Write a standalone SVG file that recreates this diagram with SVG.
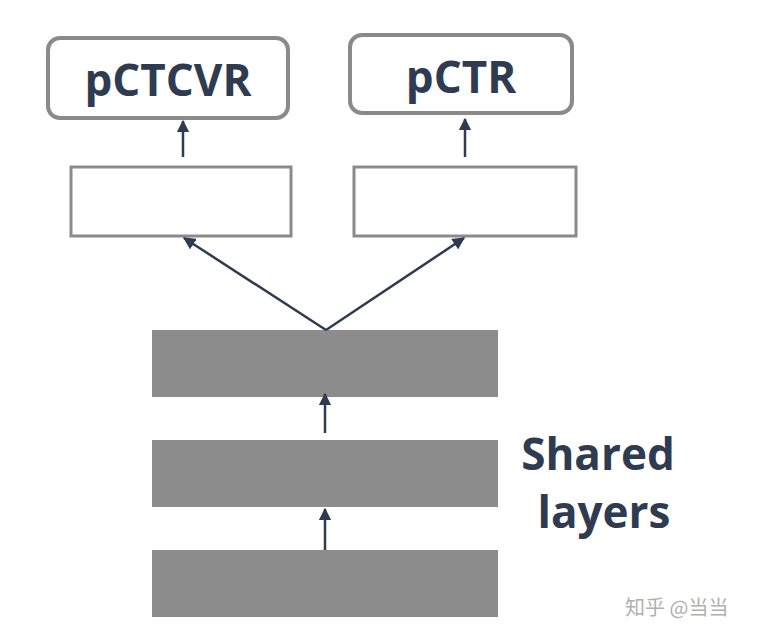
<svg xmlns="http://www.w3.org/2000/svg" width="762" height="642" viewBox="0 0 762 642">
<style>
.out{fill:#fff;stroke:#8a8a8a;stroke-width:4}
.hid{fill:#fff;stroke:#8a8a8a;stroke-width:3}
.sh{fill:#8c8c8c}
.t{font-family:"Open Sans","Liberation Sans",sans-serif;font-weight:bold;fill:#2f3b50}
.c{stroke:#2f3b50;stroke-width:2.5;fill:none;marker-end:url(#a)}
</style>
<defs><marker id="a" viewBox="0 0 10 10" refX="9" refY="5" markerWidth="5" markerHeight="5" orient="auto"><path d="M0,0L10,5L0,10z" fill="#2f3b50"/></marker></defs>
<rect width="762" height="642" fill="#fff"/>
<g id="pctcvr"><rect class="out" x="48" y="38" width="240" height="80" rx="12"/><text class="t" x="168" y="96" font-size="44" text-anchor="middle">pCTCVR</text></g>
<g id="pctr"><rect class="out" x="350" y="35" width="222" height="78" rx="12"/><text class="t" x="461" y="93" font-size="44" text-anchor="middle">pCTR</text></g>
<g id="h1"><rect class="hid" x="71" y="167" width="220" height="69"/></g>
<g id="h2"><rect class="hid" x="354" y="167" width="222" height="69"/></g>
<g id="s1"><rect class="sh" x="152" y="330" width="346" height="67"/></g>
<g id="s2"><rect class="sh" x="152" y="440" width="346" height="67"/></g>
<g id="s3"><rect class="sh" x="152" y="550" width="346" height="67"/></g>
<g id="label"><text class="t" x="598" y="470" font-size="44" text-anchor="middle">Shared</text><text class="t" x="604" y="528" font-size="44" text-anchor="middle">layers</text></g>
<g id="connectors">
<path class="c" d="M183,157V121"/>
<path class="c" d="M465,157V119"/>
<path class="c" d="M326,330L184,238"/>
<path class="c" d="M326,330L464,238"/>
<path class="c" d="M325,433V394"/>
<path class="c" d="M325,550V509"/>
</g>
<text x="625" y="615" font-size="20" fill="#b0b0b0" font-family="'Noto Sans CJK SC',sans-serif">知乎 @当当</text>
</svg>
